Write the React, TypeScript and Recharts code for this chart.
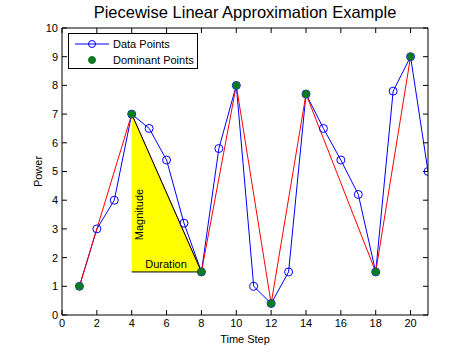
import React from 'react';
import { ComposedChart, Line, Area, XAxis, YAxis, ReferenceDot, Legend } from 'recharts';

const timeSteps = [1, 2, 3, 4, 5, 6, 7, 8, 9, 10, 11, 12, 13, 14, 15, 16, 17, 18, 19, 20, 21];
const power = [1, 3, 4, 7, 6.5, 5.4, 3.2, 1.5, 5.8, 8, 1, 0.4, 1.5, 7.7, 6.5, 5.4, 4.2, 1.5, 7.8, 9, 5];
const dominantSteps = [1, 4, 8, 10, 12, 14, 18, 20];
// the Magnitude/Duration triangle spans from step 4 down to step 8
const triangleSteps = [4, 8];
const xTicks = [0, 2, 4, 6, 8, 10, 12, 14, 16, 18, 20];
const yTicks = [0, 1, 2, 3, 4, 5, 6, 7, 8, 9, 10];

const triangleBase = power[timeSteps.indexOf(triangleSteps[1])];

const data = timeSteps.map((t, i) => ({
  t,
  power: power[i],
  dominant: dominantSteps.includes(t) ? power[i] : null,
  triangle: triangleSteps.includes(t) ? [triangleBase, power[i]] : null,
}));

const FONT = '"Liberation Sans", Arial, sans-serif';
const BLUE = '#0000ff';
const RED = '#ff0000';
const GREEN = '#0b7a22';

const tickStyle = { fill: '#000', fontSize: 11, fontFamily: FONT };

function LegendBox() {
  return (
    <div
      style={{
        border: '1px solid #000',
        background: '#fff',
        width: 128,
        height: 34,
        fontFamily: FONT,
        fontSize: 11,
        color: '#000',
        boxSizing: 'content-box',
      }}
    >
      <div style={{ display: 'flex', alignItems: 'center', height: 16, marginTop: 2 }}>
        <svg width={44} height={16}>
          <line x1={6} y1={8} x2={40} y2={8} stroke={BLUE} strokeWidth={1} />
          <circle cx={23} cy={8} r={3.5} fill="none" stroke={BLUE} />
        </svg>
        <span>Data Points</span>
      </div>
      <div style={{ display: 'flex', alignItems: 'center', height: 16 }}>
        <svg width={44} height={16}>
          <circle cx={23} cy={8} r={3.5} fill={GREEN} stroke={GREEN} />
        </svg>
        <span>Dominant Points</span>
      </div>
    </div>
  );
}

export default function App() {
  return (
    <div style={{ position: 'absolute', left: 0, top: 0, width: 474, height: 355, background: '#fff' }}>
      <div
        style={{
          position: 'absolute',
          left: 62,
          width: 366,
          top: 3,
          textAlign: 'center',
          fontFamily: FONT,
          fontSize: 16.5,
          color: '#000',
        }}
      >
        Piecewise Linear Approximation Example
      </div>
      <ComposedChart width={474} height={355} data={data} margin={{ top: 23, right: 41, bottom: 15, left: 22 }}>
        <XAxis
          dataKey="t"
          type="number"
          domain={[0, 21]}
          ticks={xTicks}
          interval={0}
          allowDataOverflow
          height={25}
          tickSize={-5}
          tickMargin={9}
          tick={tickStyle}
          axisLine={{ stroke: '#000' }}
          tickLine={{ stroke: '#000' }}
          label={{ value: 'Time Step', position: 'center', dy: 12, fontSize: 11, fill: '#000', fontFamily: FONT }}
        />
        <XAxis
          xAxisId="top"
          orientation="top"
          dataKey="t"
          type="number"
          domain={[0, 21]}
          ticks={xTicks}
          interval={0}
          allowDataOverflow
          height={5}
          tickSize={-5}
          tickFormatter={() => ''}
          axisLine={{ stroke: '#000' }}
          tickLine={{ stroke: '#000' }}
        />
        <YAxis
          type="number"
          domain={[0, 10]}
          ticks={yTicks}
          interval={0}
          allowDataOverflow
          width={40}
          tickSize={-5}
          tickMargin={9}
          tick={tickStyle}
          axisLine={{ stroke: '#000' }}
          tickLine={{ stroke: '#000' }}
          label={{ value: 'Power', angle: -90, position: 'center', dx: -4, fontSize: 11, fill: '#000', fontFamily: FONT }}
        />
        <YAxis
          yAxisId="right"
          orientation="right"
          type="number"
          domain={[0, 10]}
          ticks={yTicks}
          interval={0}
          allowDataOverflow
          width={5}
          tickSize={-5}
          tickFormatter={() => ''}
          axisLine={{ stroke: '#000' }}
          tickLine={{ stroke: '#000' }}
        />
        <Legend
          layout="horizontal"
          verticalAlign="middle"
          align="center"
          wrapperStyle={{ position: 'absolute', left: 68, top: 33, width: 'auto' }}
          content={() => <LegendBox />}
        />
        <Line
          dataKey="power"
          type="linear"
          stroke={BLUE}
          strokeWidth={1}
          dot={{ r: 4, fill: 'none', stroke: BLUE, strokeWidth: 1 }}
          isAnimationActive={false}
        />
        <Line
          dataKey="dominant"
          type="linear"
          stroke={RED}
          strokeWidth={1}
          dot={false}
          connectNulls
          isAnimationActive={false}
        />
        <Area
          dataKey="triangle"
          type="linear"
          stroke="#000"
          strokeWidth={1}
          fill="#ffff00"
          fillOpacity={1}
          connectNulls
          zIndex={450}
          isAnimationActive={false}
        />
        <Line
          dataKey="dominant"
          type="linear"
          stroke="none"
          dot={{ r: 3.5, fill: GREEN, stroke: GREEN }}
          connectNulls
          zIndex={500}
          isAnimationActive={false}
        />
        <ReferenceDot
          x={4.42}
          y={3.5}
          r={0}
          fill="none"
          stroke="none"
          label={{ value: 'Magnitude', angle: -90, position: 'center', fontSize: 11, fill: '#000', fontFamily: FONT }}
        />
        <ReferenceDot
          x={5.97}
          y={1.79}
          r={0}
          fill="none"
          stroke="none"
          label={{ value: 'Duration', position: 'center', fontSize: 11, fill: '#000', fontFamily: FONT }}
        />
      </ComposedChart>
    </div>
  );
}
